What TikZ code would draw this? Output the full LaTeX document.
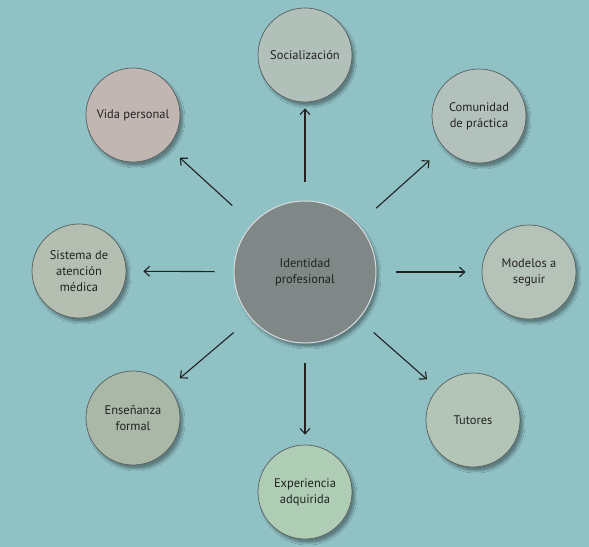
\documentclass[tikz,border=0pt]{standalone}
\usepackage{fontspec}
\setmainfont{PT Sans}
\usetikzlibrary{arrows.meta,shadows,shadows.blur}
\definecolor{bg}{HTML}{8FC1C5}
\definecolor{ink}{HTML}{222222}
\definecolor{rim}{HTML}{5A6060}
\definecolor{cVida}{HTML}{C1B6B2}
\definecolor{cSoc}{HTML}{B2C0BA}
\definecolor{cCom}{HTML}{B3C1BD}
\definecolor{cMod}{HTML}{B5C2B8}
\definecolor{cTut}{HTML}{B3C5B6}
\definecolor{cExp}{HTML}{AFCDB4}
\definecolor{cEns}{HTML}{AAB8A8}
\definecolor{cSis}{HTML}{B4BFB1}
\definecolor{cCen}{HTML}{7F8787}
\tikzset{
  bub/.style={circle, draw=rim, line width=0.7bp, minimum size=94bp, inner sep=0pt,
    align=center, text=ink, font=\fontsize{12.5}{16}\selectfont,
    blur shadow={shadow xshift=3bp, shadow yshift=-4bp, shadow blur steps=6, shadow opacity=35}},
  hub/.style={bub, draw=white!70!cCen, line width=1bp, minimum size=142bp},
  arr/.style={draw=ink, line width=1.1bp, -{Straight Barb[length=5.5bp,width=10bp]}}
}
\begin{document}
\begin{tikzpicture}[x=1bp,y=-1bp]
\fill[bg] (0,0) rectangle (589,547);
\useasboundingbox (0,0) rectangle (589,547);
\node[hub, fill=cCen] (c) at (305,272) {Identidad\\profesional};
\node[bub, fill=cSoc] (soc) at (305,55) {Socialización};
\node[bub, fill=cCom] (com) at (479,116) {Comunidad\\de práctica};
\node[bub, fill=cMod] (mod) at (529,272) {Modelos a\\seguir};
\node[bub, fill=cTut] (tut) at (473,420) {Tutores};
\node[bub, fill=cExp] (exp) at (305,492) {Experiencia\\adquirida};
\node[bub, fill=cEns] (ens) at (133,418) {Enseñanza\\formal};
\node[bub, fill=cSis] (sis) at (79,271) {Sistema de\\atención\\médica};
\node[bub, fill=cVida] (vid) at (133,115) {Vida personal};
\draw[arr, shorten <=18bp, shorten >=6bp] (c) -- (soc);
\draw[arr, shorten <=24bp, shorten >=19bp] (c) -- (com);
\draw[arr, shorten <=19bp, shorten >=16bp] (c) -- (mod);
\draw[arr, shorten <=20bp, shorten >=14bp] (c) -- (tut);
\draw[arr, shorten <=19bp, shorten >=10bp] (c) -- (exp);
\draw[arr, shorten <=22bp, shorten >=14bp] (c) -- (ens);
\draw[arr, shorten <=19bp, shorten >=17bp] (c) -- (sis);
\draw[arr, shorten <=27bp, shorten >=16bp] (c) -- (vid);
\end{tikzpicture}
\end{document}
